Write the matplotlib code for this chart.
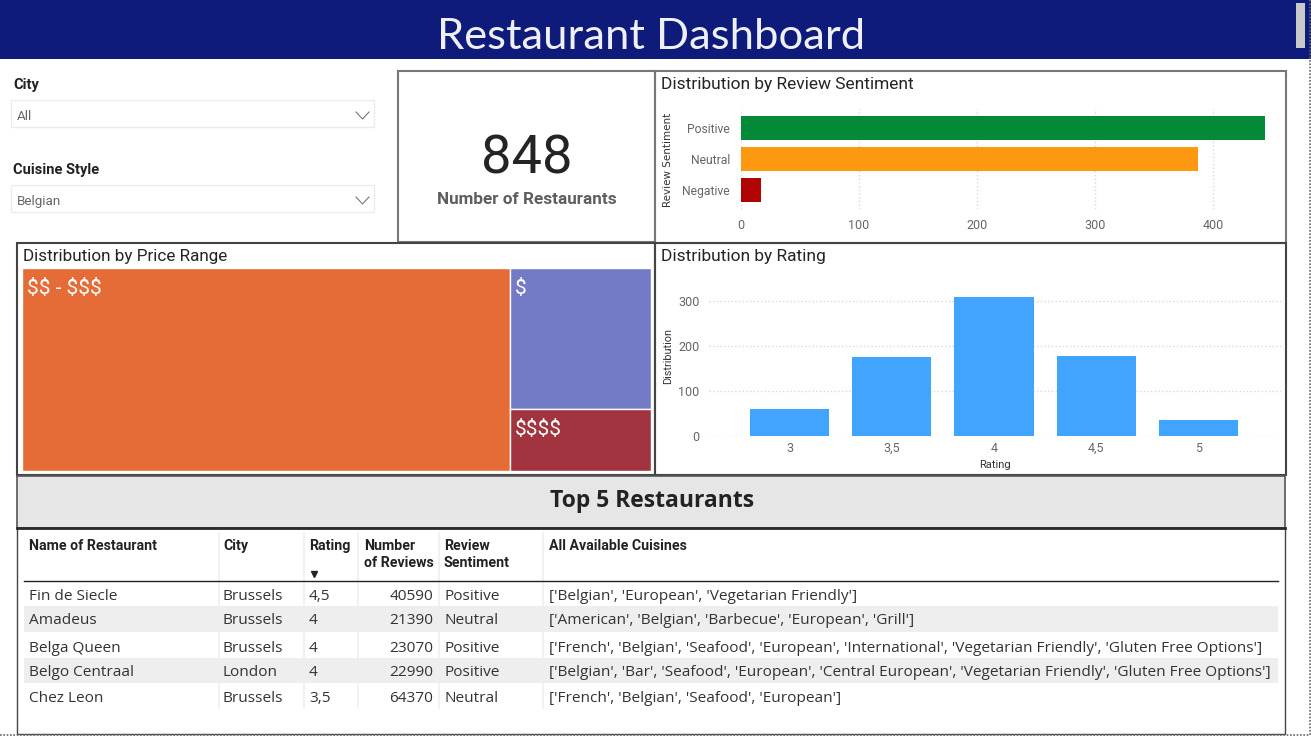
import matplotlib
matplotlib.use("Agg")
import matplotlib.pyplot as plt
from matplotlib.patches import Rectangle

W = 1311
H = 736

sentiment_names = ["Positive", "Neutral", "Negative"]
sentiment_counts = [444, 387, 17]
sentiment_colors = ["#038a39", "#ff9811", "#b00404"]
sentiment_ticks = [0, 100, 200, 300, 400]

rating_names = ["3", "3,5", "4", "4,5", "5"]
rating_counts = [60, 176, 310, 178, 36]
rating_ticks = [0, 100, 200, 300]

price_names = ["$$ - $$$", "$", "$$$$"]
price_counts = [658, 132, 58]
price_colors = ["#e66c37", "#737bc6", "#a2343f"]

table_head = ["Name of Restaurant", "City", "Rating", "Number\nof Reviews", "Review\nSentiment", "All Available Cuisines"]
restaurants = ["Fin de Siecle", "Amadeus", "Belga Queen", "Belgo Centraal", "Chez Leon"]
cities = ["Brussels", "Brussels", "Brussels", "London", "Brussels"]
ratings = ["4,5", "4", "4", "4", "3,5"]
reviews = [40590, 21390, 23070, 22990, 64370]
sentiments = ["Positive", "Neutral", "Positive", "Positive", "Neutral"]
cuisines = [
    "['Belgian', 'European', 'Vegetarian Friendly']",
    "['American', 'Belgian', 'Barbecue', 'European', 'Grill']",
    "['French', 'Belgian', 'Seafood', 'European', 'International', 'Vegetarian Friendly', 'Gluten Free Options']",
    "['Belgian', 'Bar', 'Seafood', 'European', 'Central European', 'Vegetarian Friendly', 'Gluten Free Options']",
    "['French', 'Belgian', 'Seafood', 'European']",
]

DIN = "Roboto"
SEGOE = "Open Sans"


def px_axes(x0, y0, x1, y1, z=2):
    return fig.add_axes([x0 / W, 1 - y1 / H, (x1 - x0) / W, (y1 - y0) / H], zorder=z)


def box(x0, y0, x1, y1, edge="#555555", face="none", lw=1.5):
    bg.add_patch(Rectangle((x0, y0), x1 - x0, y1 - y0, fc=face, ec=edge, lw=lw))


fig = plt.figure(figsize=(W / 100, H / 100), dpi=100, facecolor="white")
bg = fig.add_axes([0, 0, 1, 1], zorder=1)
bg.set_xlim(0, W)
bg.set_ylim(H, 0)
bg.axis("off")

# header band
bg.add_patch(Rectangle((0, 0), W, 59, fc="#0f1b7a", ec="none"))
bg.add_patch(Rectangle((1296, 3), 9, 45, fc="#c8c8c8", ec="none"))
bg.text(651, 37, "Restaurant Dashboard", color="#eef0f6", fontsize=31.3, family="Lato", ha="center", va="center")

# slicers
for label, value, ty, by in [("City", "All", 85, 100), ("Cuisine Style", "Belgian", 170, 185)]:
    bg.text(13, ty, label, fontsize=10.5, fontweight="bold", family=DIN, color="#222222", va="center")
    box(11, by, 374, by + 27, edge="#ececec", lw=1)
    bg.text(17, by + 16, value, fontsize=9.7, family=DIN, color="#666666", va="center")
    bg.plot([356, 362.5, 369], [by + 12, by + 19, by + 12], color="#777777", lw=0.8)

# kpi card
box(398, 71, 655, 242, edge="#777777")
bg.text(527, 159, "848", fontsize=39, family=DIN, color="#252423", ha="center", va="center")
bg.text(527, 199, "Number of Restaurants", fontsize=12.3, fontweight="bold", family=DIN, color="#605e5c", ha="center", va="center")

# frames
box(655, 71, 1286, 243, edge="#777777")
box(655, 243, 1286, 475, edge="#444444")
box(17, 243, 655, 475, edge="#444444")
bg.text(661, 84, "Distribution by Review Sentiment", fontsize=12.5, family=DIN, color="#252423", va="center")
bg.text(661, 256, "Distribution by Rating", fontsize=12.5, family=DIN, color="#252423", va="center")
bg.text(23, 256, "Distribution by Price Range", fontsize=12.3, family=DIN, color="#252423", va="center")

# sentiment bars
ax = px_axes(741, 109, 1280, 209)
ax.barh(sentiment_names, sentiment_counts, height=0.77, color=sentiment_colors, zorder=3)
ax.set_xlim(0, 539 / 1.18)
ax.set_ylim(2.6, -0.62)
ax.set_xticks(sentiment_ticks)
ax.grid(axis="x", color="#d9d9d9", ls=":", lw=1, zorder=0)
ax.tick_params(length=0, labelcolor="#666666")
ax.tick_params(axis="x", pad=7, labelsize=9)
ax.tick_params(axis="y", pad=8, labelsize=8.7)
ax.set_ylabel("Review Sentiment", fontsize=7.5, color="#333333")
ax.yaxis.set_label_coords(-0.126, 0.49)
for s in ax.spines.values():
    s.set_visible(False)
for t in ax.get_xticklabels() + ax.get_yticklabels():
    t.set_family(DIN)

# rating bars
ax = px_axes(709, 285, 1281, 436)
ax.bar(rating_names, rating_counts, width=0.775, color="#41a4ff", zorder=3)
ax.set_xlim(-0.79, 4.81)
ax.set_ylim(0, 151 / 0.45)
ax.set_yticks(rating_ticks)
ax.grid(axis="y", color="#d9d9d9", ls=":", lw=1, zorder=0)
ax.tick_params(length=0, labelsize=9, labelcolor="#666666")
ax.tick_params(axis="x", pad=4)
ax.tick_params(axis="y", pad=7)
ax.set_xlabel("Rating", fontsize=8, color="#333333", labelpad=4)
ax.set_ylabel("Distribution", fontsize=7.8, color="#333333")
ax.yaxis.set_label_coords(-0.063, 0.53)
for s in ax.spines.values():
    s.set_visible(False)
for t in ax.get_xticklabels() + ax.get_yticklabels() + [ax.xaxis.label, ax.yaxis.label]:
    t.set_family(DIN)

# price treemap
ax = px_axes(22, 268, 651, 471)
ax.set_xlim(0, 1)
ax.set_ylim(1, 0)
ax.axis("off")
total = sum(price_counts)
split_x = price_counts[0] / total
split_y = price_counts[1] / (price_counts[1] + price_counts[2])
tiles = [(0, 0, split_x, 1), (split_x, 0, 1 - split_x, split_y), (split_x, split_y, 1 - split_x, 1 - split_y)]
for name, color, (tx, ty, tw, th) in zip(price_names, price_colors, tiles):
    ax.add_patch(Rectangle((tx, ty), tw, th, fc=color, ec="white", lw=1))
    ax.annotate(name, (tx, ty), xytext=(3.5, -8), textcoords="offset points", color="white",
                fontsize=15, family=DIN, va="top", ha="left", parse_math=False)

# table title
box(17, 476, 1285, 528, edge="#555555", face="#e6e6e6", lw=1.2)
bg.text(652, 501, "Top 5 Restaurants", fontsize=16.5, fontweight="bold", family=SEGOE, color="#222222", ha="center", va="center")

# table
box(17, 528, 1285, 734, edge="#444444", lw=1)
bg.plot([17, 1285], [528, 528], color="#2b2b2b", lw=2)
for sy0, sy1 in [(606, 632), (658, 683)]:
    bg.add_patch(Rectangle((24, sy0), 1254, sy1 - sy0, fc="#eeeeee", ec="none"))
for sep in [219, 304, 358, 439, 543]:
    bg.plot([sep, sep], [533, 708], color="#efefef", lw=1.2)
bg.plot([24, 1278], [580.5, 580.5], color="#222222", lw=1)
bg.plot([314], [574], marker="v", ms=5, color="#252423")

col_x = [29, 223, 309, 364, 444, 549]
for x, head in zip(col_x, table_head):
    bg.text(x, 539, head, fontsize=10.2, fontweight="bold", family=DIN, color="#222222",
            va="top", ha="left", linespacing=1.25)

row_y = [596, 621, 648, 673, 698]
for i, y in enumerate(row_y):
    for x, val in zip([29, 223, 309, 444], [restaurants[i], cities[i], ratings[i], sentiments[i]]):
        bg.text(x, y, val, fontsize=11.05, family=SEGOE, color="#333333", va="center")
    bg.text(433, y, str(reviews[i]), fontsize=11.05, family=SEGOE, color="#333333", va="center", ha="right")
    bg.text(549, y, cuisines[i], fontsize=11.05, family=SEGOE, color="#333333", va="center")

# dotted page edge
bg.plot([0, 1309.5, 1309.5], [734.5, 734.5, 0], color="#666666", lw=1.2, ls=(0, (1, 1)))

fig.savefig("out.png", dpi=100)
